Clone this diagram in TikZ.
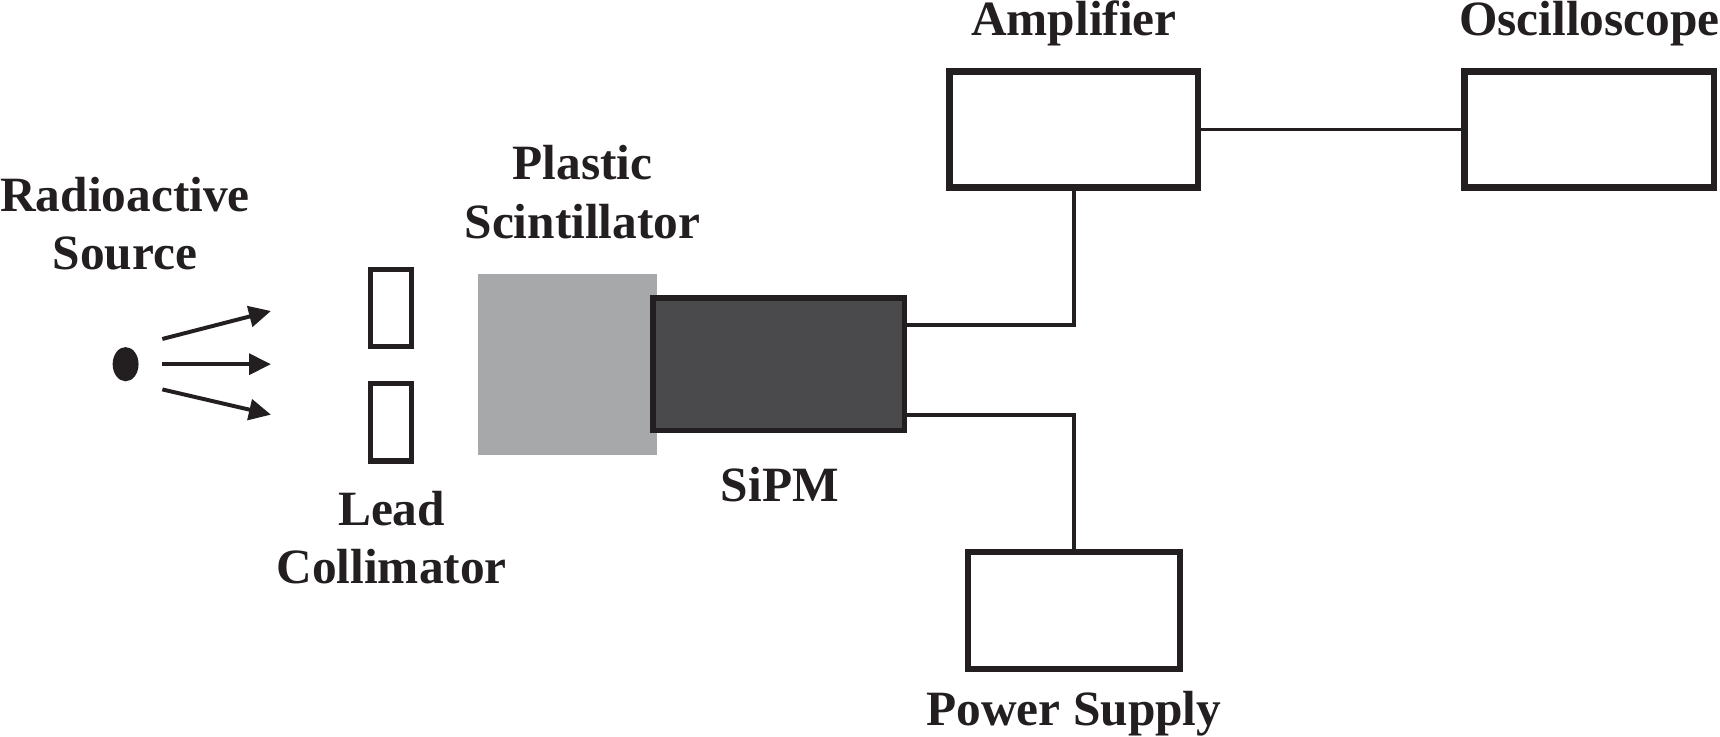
\documentclass[tikz,border=0pt]{standalone}
\usepackage{fontspec}
\setmainfont{Liberation Serif}
\usetikzlibrary{arrows.meta,shapes.geometric}
\definecolor{ink}{HTML}{231F20}
\definecolor{scintgray}{HTML}{A7A8AA}
\definecolor{sipmgray}{HTML}{4A494B}
\tikzset{
  lbl/.style={anchor=base, inner sep=0pt, text=ink, font=\fontsize{22.5}{27}\selectfont\bfseries},
  toplbl/.style={lbl, text height=15.4pt},
  blackbox/.style={draw=ink, line width=3pt, fill=white, rectangle, inner sep=0pt},
  collbox/.style={draw=ink, line width=2.5pt, fill=white, rectangle, inner sep=0pt, minimum width=18.6pt, minimum height=35.2pt},
  wire/.style={draw=ink, line width=1.7pt},
  ray/.style={draw=ink, line width=1.8pt, -{Triangle[length=10pt,width=9.5pt]}}
}
\begin{document}
\begin{tikzpicture}[x=0.5pt,y=-0.5pt]
\useasboundingbox (0,0) rectangle (1568,671);
% source
\node[ellipse, fill=ink, inner sep=0pt, minimum width=11.8pt, minimum height=15.6pt] (src) at (114.5,332) {};
\coordinate (r1s) at (148,309);  \coordinate (r1e) at (247,283.5);
\coordinate (r2s) at (148,332);  \coordinate (r2e) at (247,332);
\coordinate (r3s) at (148,355);  \coordinate (r3e) at (247,378);
\draw[ray] (r1s) -- (r1e);
\draw[ray] (r2s) -- (r2e);
\draw[ray] (r3s) -- (r3e);
% collimator
\node[collbox] (coltop) at (356.5,280.8) {};
\node[collbox] (colbot) at (356.5,384.9) {};
% scintillator and SiPM
\node[rectangle, fill=scintgray, inner sep=0pt, minimum width=81.75pt, minimum height=82.5pt] (scint) at (517.3,332.3) {};
\node[rectangle, draw=ink, fill=sipmgray, line width=2.5pt, inner sep=0pt, minimum width=114.5pt, minimum height=60.5pt] (sipm) at (710,332) {};
% instruments
\node[blackbox, minimum width=113.2pt, minimum height=52.75pt] (amp) at (979,118) {};
\node[blackbox, minimum width=113.7pt, minimum height=52.75pt] (osc) at (1448.8,118) {};
\node[blackbox, line width=2.75pt, minimum width=96.7pt, minimum height=53.2pt] (psu) at (979,556.5) {};
% wires
\draw[wire] (amp.east) -- (osc.west);
\draw[wire] ([yshift=17.9pt]sipm.east) -| (amp.south);
\draw[wire] ([yshift=-23.2pt]sipm.east) -| (psu.north);
% labels
\node[lbl] (lradio) at (114,193) {Radioactive};
\node[lbl] (lsource) at (114,246) {Source};
\node[lbl] (lplastic) at (531,164) {Plastic};
\node[lbl] (lscint) at (531,217) {Scintillator};
\node[lbl] (llead) at (357,478.6) {Lead};
\node[lbl] (lcoll) at (357,531.8) {Collimator};
\node[lbl] (lsipm) at (711,457.4) {SiPM};
\node[toplbl] (lamp) at (979,32) {Amplifier};
\node[toplbl] (losc) at (1449,32) {Oscilloscope};
\node[lbl] (lpsu) at (979,661) {Power Supply};
\end{tikzpicture}
\end{document}
